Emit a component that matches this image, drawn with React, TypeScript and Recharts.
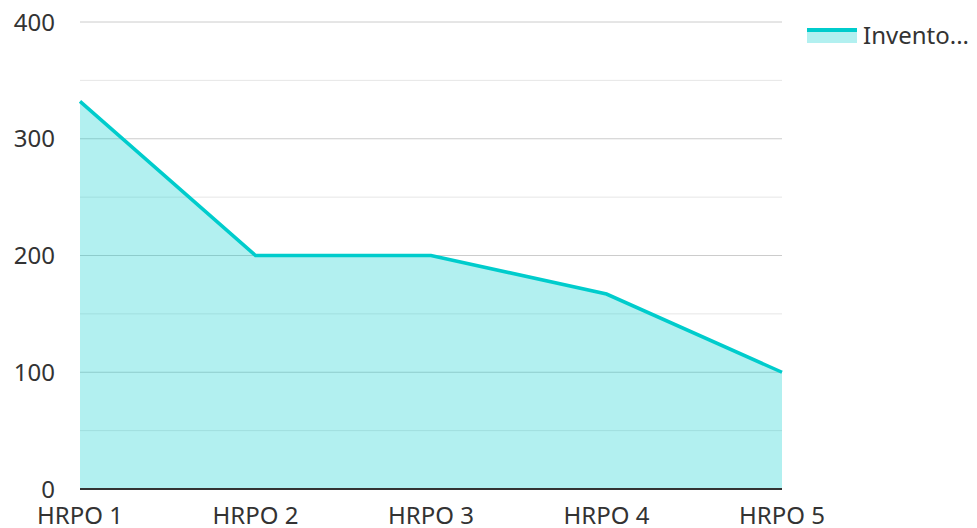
import React from 'react';
import { AreaChart, Area, XAxis, YAxis, CartesianGrid } from 'recharts';

const categories = ['HRPO 1', 'HRPO 2', 'HRPO 3', 'HRPO 4', 'HRPO 5'];
const inventory = [332, 200, 200, 167, 100];
const majorTicks = [0, 100, 200, 300, 400];
const minorTicks = [50, 150, 250, 350];
const seriesName = 'Invento...';

const data = categories.map((c, i) => ({ name: c, value: inventory[i] }));

const FONT = '"Noto Sans", "Open Sans", sans-serif';
const CYAN = '#00cccc';

export default function App() {
  return (
    <div style={{ position: 'absolute', left: 0, top: 0, width: 977, height: 528 }}>
      <AreaChart width={977} height={528} data={data} margin={{ top: 22, right: 195, bottom: 0, left: 0 }}>
        <CartesianGrid vertical={false} horizontalValues={minorTicks} stroke="#e6e6e6" strokeWidth={1} />
        <CartesianGrid vertical={false} horizontalValues={majorTicks} stroke="#cccccc" strokeWidth={1} />
        <XAxis
          dataKey="name"
          height={39}
          tickLine={false}
          tickSize={0}
          tickMargin={18}
          axisLine={{ stroke: '#333', strokeWidth: 2 }}
          tick={{ fill: '#333', fontSize: 24, fontFamily: FONT }}
          interval={0}
        />
        <YAxis
          width={80}
          domain={[0, 400]}
          ticks={majorTicks}
          axisLine={false}
          tickLine={false}
          tickSize={0}
          tickMargin={25}
          tick={{ fill: '#333', fontSize: 24, fontFamily: FONT }}
        />
        <Area
          type="linear"
          dataKey="value"
          name={seriesName}
          stroke={CYAN}
          strokeWidth={3.5}
          fill={CYAN}
          fillOpacity={0.3}
          dot={false}
          activeDot={false}
          isAnimationActive={false}
        />
      </AreaChart>
      <div style={{ position: 'absolute', left: 807, top: 20, display: 'flex', alignItems: 'center', fontFamily: FONT, fontSize: 24, color: '#333', whiteSpace: 'nowrap' }}>
        <div style={{ width: 50, height: 15, background: 'rgba(0,204,204,0.3)', borderTop: `4px solid ${CYAN}`, boxSizing: 'border-box', marginRight: 6 }} />
        <span style={{ lineHeight: '30px' }}>{seriesName}</span>
      </div>
    </div>
  );
}
